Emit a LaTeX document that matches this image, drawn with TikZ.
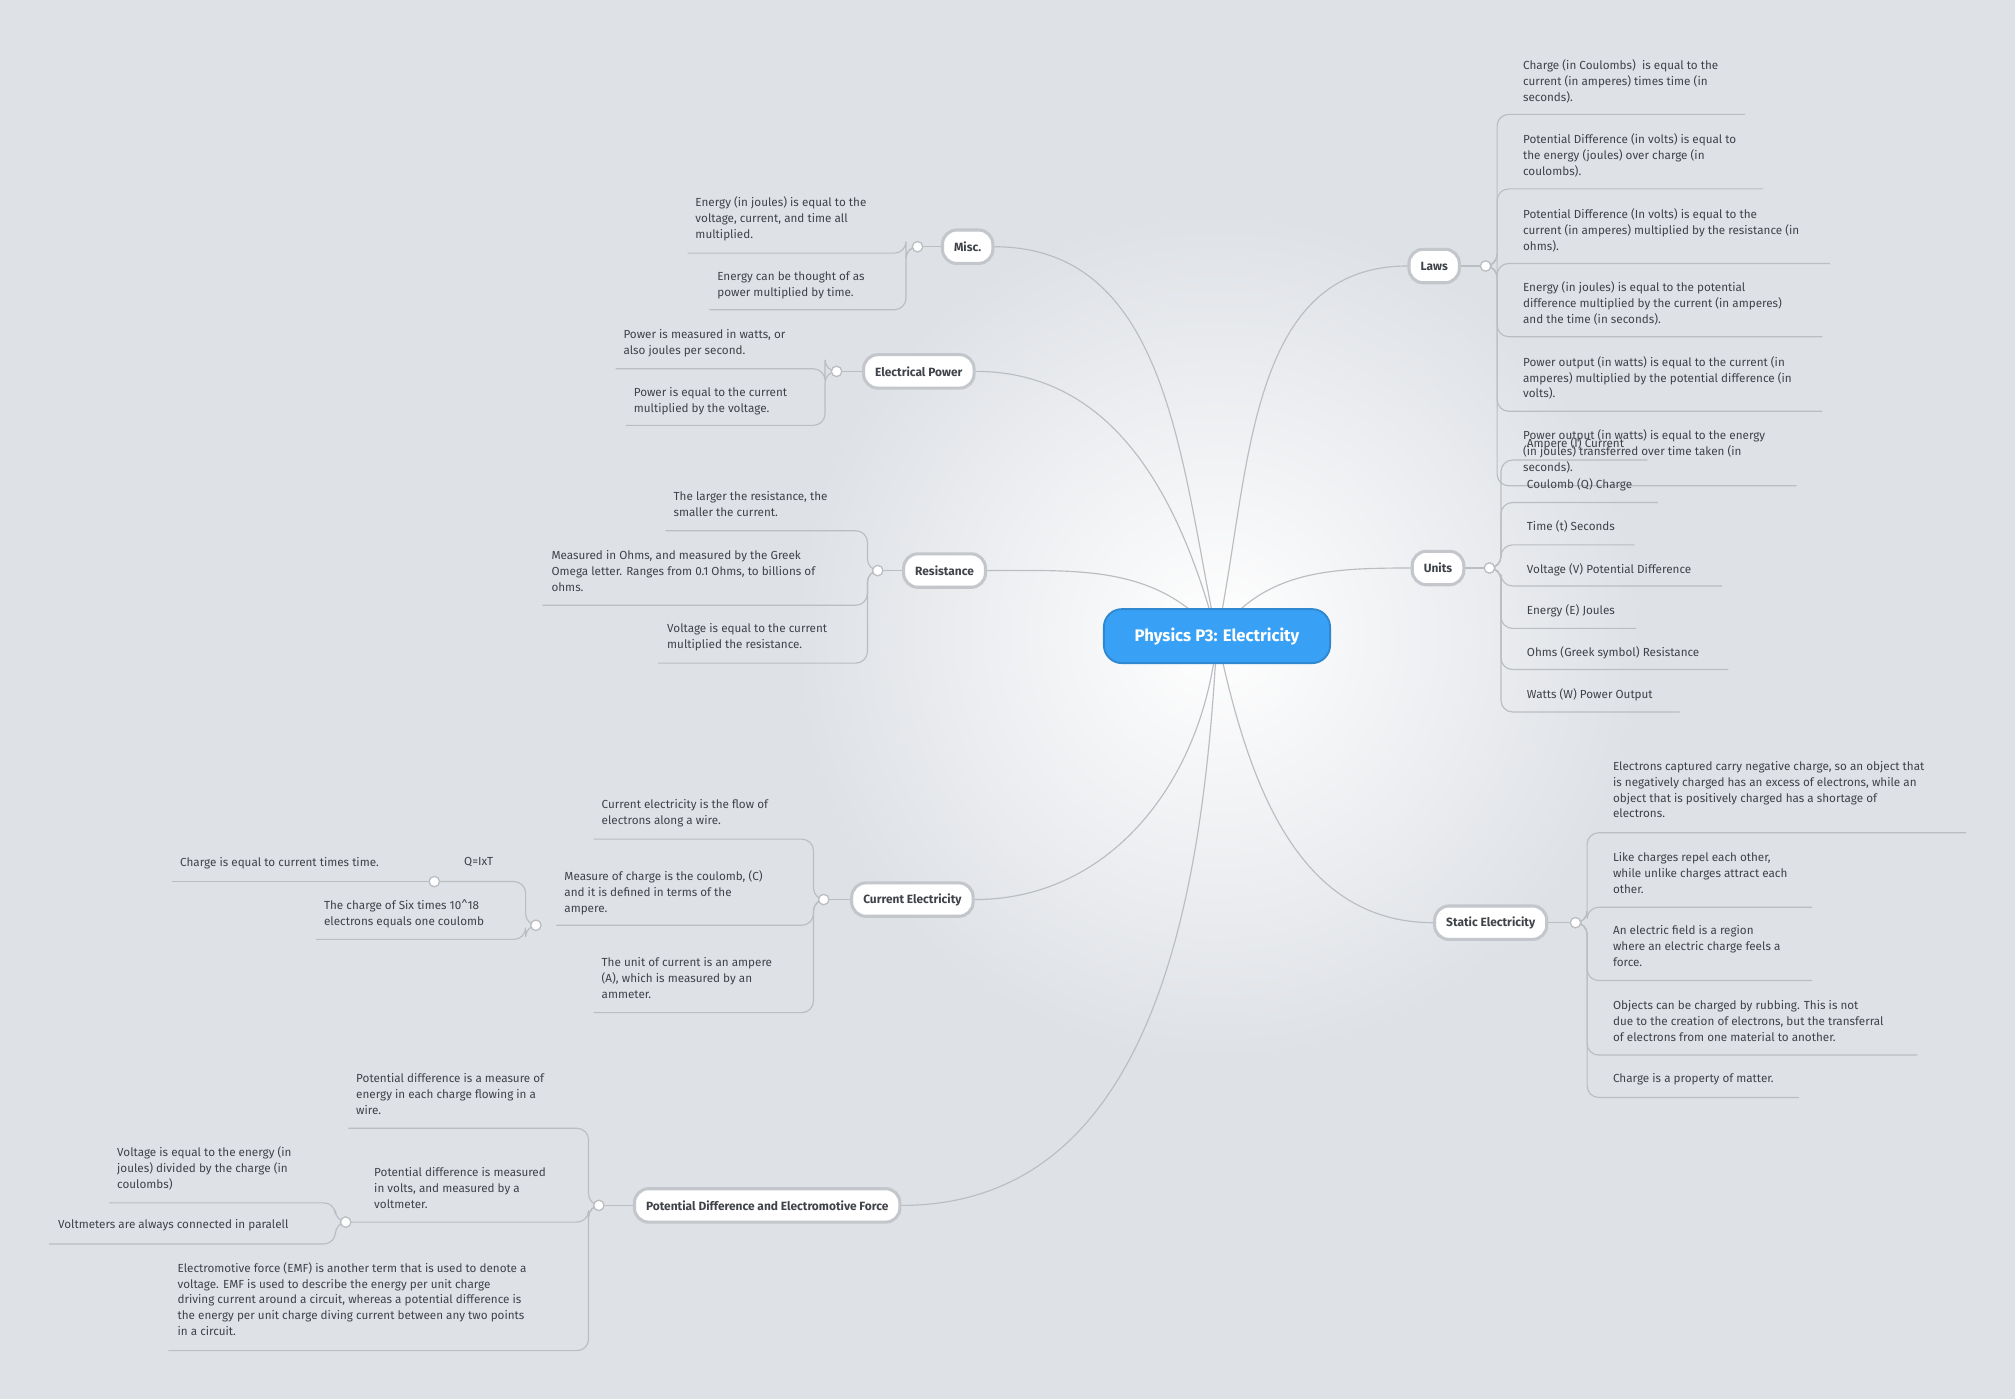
\documentclass[tikz,border=0pt]{standalone}
\usepackage{fontspec}
\setmainfont{Fira Sans}
\definecolor{bg}{HTML}{DEE1E6}
\definecolor{ln}{HTML}{BABDC1}
\definecolor{pill}{HTML}{C3C6CB}
\definecolor{blue}{HTML}{38A1F5}
\definecolor{txt}{HTML}{3F4349}
\tikzset{
 con/.style={draw=ln,line width=0.9pt},
 br/.style={draw=pill,line width=2.4pt,fill=white,rounded corners=11pt,font=\fontsize{9.3}{11}\selectfont\bfseries,text=txt,inner xsep=9pt,minimum height=26pt},
 dot/.style={circle,draw=ln,line width=0.9pt,fill=white,inner sep=0pt,minimum size=8pt},
 lf/.style={anchor=north west,align=left,inner sep=0pt,text=txt,yshift=-2pt,font=\fontsize{9.1}{12.4}\selectfont},
}
\newcommand\rl[5]{\draw[con,rounded corners=9pt] (#1.east) -- (#2,#3) -- (#2,#4) -- (#5,#4);}
\newcommand\lL[5]{\draw[con,rounded corners=9pt] (#1.west) -- (#2,#3) -- (#2,#4) -- (#5,#4);}
\begin{document}
\begin{tikzpicture}[x=1pt,y=-1pt]
\fill[bg] (0,0) rectangle (1568,1089);
\useasboundingbox (0,0) rectangle (1568,1089);
\shade[inner color=white,outer color=bg] (947,495) circle (330);
% branches
\node[br] (laws) at (1116,207) {Laws};
\node[br] (units) at (1119,442) {Units};
\node[br] (stat) at (1160,718) {Static Electricity};
\node[br] (misc) at (753,192) {Misc.};
\node[br] (ep) at (715,289) {Electrical Power};
\node[br] (res) at (735,444) {Resistance};
\node[br] (ce) at (710,700) {Current Electricity};
\node[br] (pd) at (597,938) {Potential Difference and Electromotive Force};
\coordinate (c) at (947,495);
\draw[con] (c) to[out=78,in=180] (laws.west);
\draw[con] (c) to[out=55,in=180] (units.west);
\draw[con] (c) to[out=-78,in=180] (stat.west);
\draw[con] (c) to[out=102,in=0] (misc.east);
\draw[con] (c) to[out=105,in=0] (ep.east);
\draw[con] (c) to[out=130,in=0] (res.east);
\draw[con] (c) to[out=-95,in=0] (ce.east);
\draw[con] (c) to[out=-93,in=0] (pd.east);
\node[fill=blue,draw=blue!85!black,line width=1.5pt,rounded corners=14pt,minimum width=176pt,minimum height=42pt,text=white,font=\fontsize{13}{14}\selectfont\bfseries] (cen) at (947,495) {Physics P3: Electricity};
% circles
\node[dot] (claws) at (1156,207) {};
\node[dot] (cunits) at (1159,442) {};
\node[dot] (cstat) at (1226,718) {};
\node[dot] (cmisc) at (714,192) {};
\node[dot] (cep) at (651,289) {};
\node[dot] (cres) at (683,444) {};
\node[dot] (cce) at (641,700) {};
\node[dot] (cpd) at (466,938) {};
\node[dot] (cq) at (417,720) {};
\node[dot] (cqx) at (338,686) {};
\node[dot] (cv) at (269,951) {};
\draw[con] (laws.east)--(claws.west); \draw[con] (units.east)--(cunits.west);
\draw[con] (stat.east)--(cstat.west); \draw[con] (misc.west)--(cmisc.east);
\draw[con] (ep.west)--(cep.east); \draw[con] (res.west)--(cres.east);
\draw[con] (ce.west)--(cce.east); \draw[con] (pd.west)--(cpd.east);
% Laws leaves
\node[lf] (l1) at (1185,44) {Charge (in Coulombs)\ \ is equal to the\\current (in amperes) times time (in\\seconds).};
\node[lf] (l2) at (1185,102) {Potential Difference (in volts) is equal to\\the energy (joules) over charge (in\\coulombs).};
\node[lf] (l3) at (1185,160) {Potential Difference (In volts) is equal to the\\current (in amperes) multiplied by the resistance (in\\ohms).};
\node[lf] (l4) at (1185,217) {Energy (in joules) is equal to the potential\\difference multiplied by the current (in amperes)\\and the time (in seconds).};
\node[lf] (l5) at (1185,275) {Power output (in watts) is equal to the current (in\\amperes) multiplied by the potential difference (in\\volts).};
\node[lf] (l6) at (1185,332) {Power output (in watts) is equal to the energy\\(in joules) transferred over time taken (in\\seconds).};
\rl{claws}{1165}{207}{89}{1358}\rl{claws}{1165}{207}{147}{1372}\rl{claws}{1165}{207}{205}{1424}
\rl{claws}{1165}{207}{262}{1418}\rl{claws}{1165}{207}{320}{1418}\rl{claws}{1165}{207}{378}{1398}
% Units leaves
\node[lf] (u1) at (1188,338) {Ampere (I) Current};
\node[lf] (u2) at (1188,370) {Coulomb (Q) Charge};
\node[lf] (u3) at (1188,403) {Time (t) Seconds};
\node[lf] (u4) at (1188,436) {Voltage (V) Potential Difference};
\node[lf] (u5) at (1188,468) {Energy (E) Joules};
\node[lf] (u6) at (1188,501) {Ohms (Greek symbol) Resistance};
\node[lf] (u7) at (1188,534) {Watts (W) Power Output};
\rl{cunits}{1168}{442}{358}{1282}\rl{cunits}{1168}{442}{391}{1290}\rl{cunits}{1168}{442}{424}{1272}
\rl{cunits}{1168}{442}{456}{1340}\rl{cunits}{1168}{442}{489}{1273}\rl{cunits}{1168}{442}{521}{1345}\rl{cunits}{1168}{442}{554}{1307}
% Static
\node[lf] (s1) at (1255,590) {Electrons captured carry negative charge, so an object that\\is negatively charged has an excess of electrons, while an\\object that is positively charged has a shortage of\\electrons.};
\node[lf] (s2) at (1255,661) {Like charges repel each other,\\while unlike charges attract each\\other.};
\node[lf] (s3) at (1255,718) {An electric field is a region\\where an electric charge feels a\\force.};
\node[lf] (s4) at (1255,776) {Objects can be charged by rubbing. This is not\\due to the creation of electrons, but the transferral\\of electrons from one material to another.};
\node[lf] (s5) at (1255,833) {Charge is a property of matter.};
\rl{cstat}{1235}{718}{648}{1530}\rl{cstat}{1235}{718}{706}{1410}\rl{cstat}{1235}{718}{763}{1410}
\rl{cstat}{1235}{718}{821}{1492}\rl{cstat}{1235}{718}{854}{1400}
% Misc
\node[lf] (m1) at (541,151) {Energy (in joules) is equal to the\\voltage, current, and time all\\multiplied.};
\node[lf] (m2) at (558,209) {Energy can be thought of as\\power multiplied by time.};
\lL{cmisc}{705}{192}{197}{535}\lL{cmisc}{705}{192}{241}{552}
% Electrical power
\node[lf] (e1) at (485,254) {Power is measured in watts, or\\also joules per second.};
\node[lf] (e2) at (493,299) {Power is equal to the current\\multiplied by the voltage.};
\lL{cep}{642}{289}{287}{479}\lL{cep}{642}{289}{331}{487}
% Resistance
\node[lf] (r1) at (524,380) {The larger the resistance, the\\smaller the current.};
\node[lf] (r2) at (429,426) {Measured in Ohms, and measured by the Greek\\Omega letter. Ranges from 0.1 Ohms, to billions of\\ohms.};
\node[lf] (r3) at (519,483) {Voltage is equal to the current\\multiplied the resistance.};
\lL{cres}{675}{444}{413}{518}\lL{cres}{675}{444}{471}{422}\lL{cres}{675}{444}{516}{512}
% Current electricity
\node[lf] (c1) at (468,620) {Current electricity is the flow of\\electrons along a wire.};
\node[lf] (c2) at (439,675) {Measure of charge is the coulomb, (C)\\and it is defined in terms of the\\ampere.};
\node[lf] (c3) at (468,743) {The unit of current is an ampere\\(A), which is measured by an\\ammeter.};
\lL{cce}{633}{700}{653}{462}\lL{cce}{633}{700}{720}{433}\lL{cce}{633}{700}{788}{462}
\node[lf] (q1) at (361,665) {Q=IxT};
\node[lf] (q2) at (252,698) {The charge of Six times 10\^{}18\\electrons equals one coulomb};
\lL{cq}{409}{720}{686}{342}\lL{cq}{409}{720}{731}{246}
\node[lf] (q3) at (140,665) {Charge is equal to current times time.};
\draw[con] (cqx.west) -- (134,686);
% PD
\node[lf] (p1) at (277,833) {Potential difference is a measure of\\energy in each charge flowing in a\\wire.};
\node[lf] (p2) at (291,906) {Potential difference is measured\\in volts, and measured by a\\voltmeter.};
\node[lf] (p3) at (138,980) {Electromotive force (EMF) is another term that is used to denote a\\voltage. EMF is used to describe the energy per unit charge\\driving current around a circuit, whereas a potential difference is\\the energy per unit charge diving current between any two points\\in a circuit.};
\lL{cpd}{458}{938}{878}{271}\lL{cpd}{458}{938}{951}{273}\lL{cpd}{458}{938}{1051}{131}
\node[lf] (v1) at (91,890) {Voltage is equal to the energy (in\\joules) divided by the charge (in\\coulombs)};
\node[lf] (v2) at (45,947) {Voltmeters are always connected in paralell};
\lL{cv}{261}{951}{936}{85}\lL{cv}{261}{951}{968}{38}
% redraw circles on top
\foreach \p in {claws,cunits,cstat,cmisc,cep,cres,cce,cpd,cq,cqx,cv}
  \draw[ln,line width=0.9pt,fill=white] (\p.center) circle (4pt);
\end{tikzpicture}
\end{document}
